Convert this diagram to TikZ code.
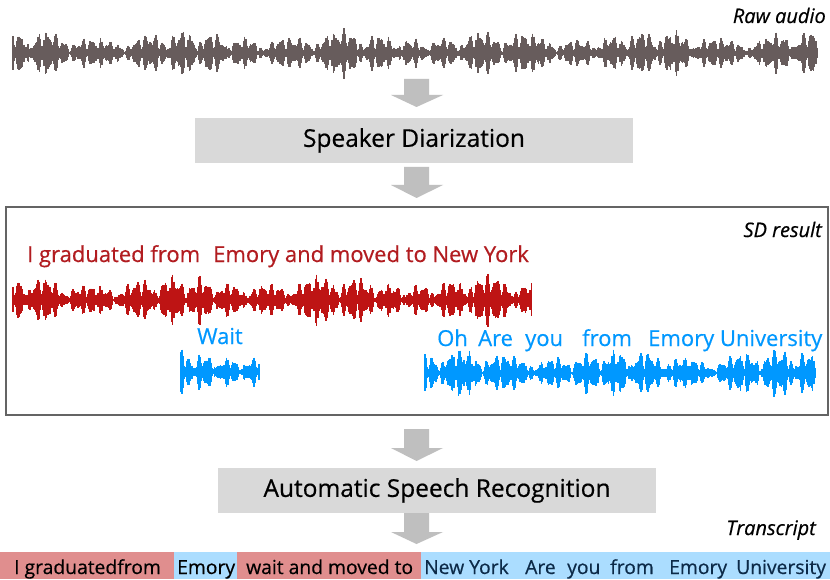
\documentclass[tikz,border=0pt]{standalone}
\usepackage{fontspec}
\setmainfont[FakeBold=0.5]{Open Sans}
\definecolor{wavegray}{RGB}{103,92,92}
\definecolor{wavered}{RGB}{190,20,20}
\definecolor{txtred}{RGB}{178,28,32}
\definecolor{waveblue}{RGB}{0,152,255}
\definecolor{boxgray}{RGB}{217,217,217}
\definecolor{arrgray}{RGB}{191,191,191}
\definecolor{barred}{RGB}{224,142,142}
\definecolor{barblue}{RGB}{171,221,255}
\definecolor{navy}{RGB}{12,42,72}
\definecolor{framegray}{RGB}{100,100,100}
\tikzset{
 stagebox/.style={fill=boxgray, inner sep=0, font=\fontsize{24.5}{28}\selectfont},
 lbl/.style={inner sep=0, font=\fontsize{20}{23}\selectfont\itshape, anchor=base east},
 sdword/.style={inner sep=0, anchor=base west, font=\fontsize{22}{26}\selectfont},
 barword/.style={inner sep=0, anchor=base west, font=\fontsize{19.3}{23}\selectfont},
 seg/.style={inner sep=0, anchor=north west, minimum height=27},
 blockarr/.style={fill=arrgray}
}
% #1 x0, #2 x1, #3 yc, #4 amp, #5 color, #6 seed, #7 freq
\newcommand\mywave[7]{%
 \pgfmathsetseed{#6}%
 \pgfmathtruncatemacro\nn{(#2-#1)/1.2}%
 \draw[#5, line width=0.6pt] (#1,#3) -- (#2,#3);
 \foreach \i in {0,...,\nn}{%
   \pgfmathsetmacro\xx{#1+1.2*\i}%
   \pgfmathsetmacro\xm{mod(\xx,72)}%
   \pgfmathsetmacro\ee{(0.8+0.2*sin(2.3*\xx+2*#6))*pow(abs(sin(#7*\xx+50*sin(1.7*\xx+#6)))+0.03,0.5)}%
   \pgfmathsetmacro\nz{max(0.62+0.25*sin(40*\xm+#6)+0.16*sin(65*\xm+3*#6)+0.05*rand,0.15)}%
   \pgfmathsetmacro\ha{#4*\ee*\nz}%
   \pgfmathsetmacro\hb{#4*\ee*max(\nz+0.05*rand,0.15)}%
   \draw[#5, line width=1.5pt] (\xx,#3-\ha) -- (\xx,#3+\hb);
 }%
}
\newcommand\blockarrow[3]{%
 \fill[blockarr] (404,#1) -- (429,#1) -- (429,#2) -- (443,#2) -- (416.5,#3) -- (391,#2) -- (404,#2) -- cycle;}
\begin{document}
\begin{tikzpicture}[x=1pt,y=-1pt]
\useasboundingbox[fill=white] (0,0) rectangle (830,580);
% raw audio
\node[lbl] (rawlbl) at (826,23) {Raw audio};
\mywave{13}{818}{53}{23}{wavegray}{11}{4.6}
\blockarrow{79}{95}{107}
\node[stagebox, minimum width=438, minimum height=45] (sd) at (414,140.5) {Speaker Diarization};
\blockarrow{167}{185}{198}
% SD result frame
\node[draw=framegray, line width=1.2pt, minimum width=822, minimum height=208, inner sep=0] (sdres) at (417,311) {};
\node[lbl] (sdlbl) at (822,237) {SD result};
\node[sdword, text=txtred] (r1) at (27,262) {I graduated from};
\node[sdword, text=txtred] (r2) at (213,262) {Emory and moved to New York};
\mywave{13}{532}{300}{25}{wavered}{23}{4.9}
\node[sdword, text=waveblue] (b0) at (197,344) {Wait};
\mywave{181}{260}{372}{23}{waveblue}{37}{6.5}
\node[sdword, text=waveblue] (b1) at (437,346) {Oh};
\node[sdword, text=waveblue] (b2) at (478,346) {Are};
\node[sdword, text=waveblue] (b3) at (525,346) {you};
\node[sdword, text=waveblue] (b4) at (582,346) {from};
\node[sdword, text=waveblue] (b5) at (648,346) {Emory University};
\mywave{425}{815}{373}{24}{waveblue}{51}{4.8}
\blockarrow{429}{448}{461}
\node[stagebox, minimum width=438, minimum height=45] (asr) at (437,490.5) {Automatic Speech Recognition};
\blockarrow{513}{532}{544}
\node[lbl] (trlbl) at (816,535) {Transcript};
% transcript bar
\node[seg, fill=barred, minimum width=174] (s1) at (0,552) {};
\node[seg, fill=barblue, minimum width=63] (s2) at (174,552) {};
\node[seg, fill=barred, minimum width=184] (s3) at (237,552) {};
\node[seg, fill=barblue, minimum width=409] (s4) at (421,552) {};
\node[barword] (t1) at (14,574) {I graduatedfrom};
\node[barword] (t2) at (177,574) {Emory};
\node[barword] (t3) at (246,574) {wait and moved to};
\node[barword, text=navy] (t4) at (424,574) {New York};
\node[barword, text=navy] (t5) at (525,574) {Are};
\node[barword, text=navy] (t6) at (567,574) {you};
\node[barword, text=navy] (t7) at (610,574) {from};
\node[barword, text=navy] (t8) at (669,574) {Emory};
\node[barword, text=navy] (t9) at (736,574) {University};
\end{tikzpicture}
\end{document}
